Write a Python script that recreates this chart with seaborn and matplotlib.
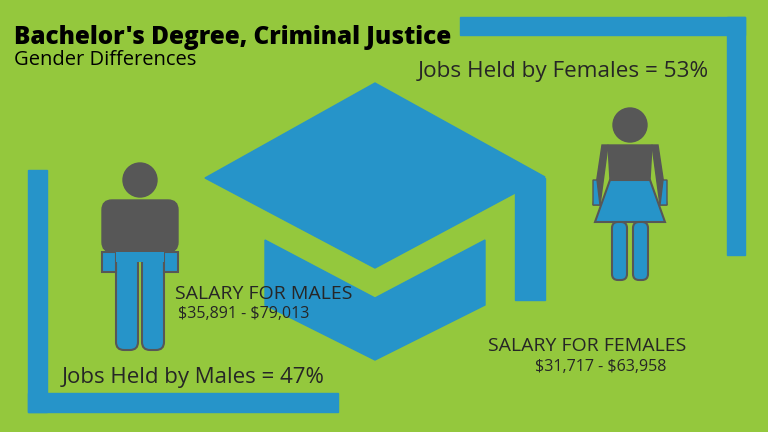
import matplotlib
matplotlib.use("Agg")
import matplotlib.pyplot as plt
import seaborn as sns
from matplotlib.patches import Polygon, Rectangle, Circle, FancyBboxPatch

# Data
genders = ["Males", "Females"]
job_share = [47, 53]
salary_low = [35891, 31717]
salary_high = [79013, 63958]

GREEN = "#94c83d"
BLUE = "#2694c9"
GRAY = "#575757"

sns.set_style("white")
plt.rcParams["font.family"] = ["Open Sans", "DejaVu Sans"]

fig = plt.figure(figsize=(7.68, 4.32), dpi=100)
fig.patch.set_facecolor(GREEN)
ax = fig.add_axes([0, 0, 1, 1])
ax.set_facecolor(GREEN)
ax.set_xlim(0, 768)
ax.set_ylim(432, 0)
ax.axis("off")

# brackets
ax.add_patch(Rectangle((460, 17), 285, 18, color=BLUE))
ax.add_patch(Rectangle((727, 17), 18, 238, color=BLUE))
ax.add_patch(Rectangle((28, 170), 19, 242, color=BLUE))
ax.add_patch(Rectangle((28, 393), 310, 19, color=BLUE))

# graduation cap
ax.add_patch(Polygon([(265, 240), (375, 298), (485, 240), (485, 305),
                      (375, 360), (265, 305)], color=BLUE))
ax.add_patch(Polygon([(205, 178), (375, 83), (545, 177), (375, 268)], color=BLUE))
ax.add_patch(Rectangle((515, 178), 30, 122, color=BLUE))


def person(cx, head_y, female=False):
    ax.add_patch(Circle((cx, head_y), 17, color=GRAY))
    if female:
        # arms
        ax.add_patch(Polygon([(cx - 28, head_y + 20), (cx - 22, head_y + 20),
                              (cx - 30, head_y + 80), (cx - 37, head_y + 80)], color=GRAY))
        ax.add_patch(Polygon([(cx + 28, head_y + 20), (cx + 22, head_y + 20),
                              (cx + 30, head_y + 80), (cx + 37, head_y + 80)], color=GRAY))
        ax.add_patch(Polygon([(cx - 20, head_y + 55), (cx - 22, head_y + 20),
                              (cx + 22, head_y + 20), (cx + 20, head_y + 55)], color=GRAY))
        ax.add_patch(Polygon([(cx - 20, head_y + 55), (cx + 20, head_y + 55),
                              (cx + 35, head_y + 97), (cx - 35, head_y + 97)], color=BLUE, ec=GRAY, lw=1.5))
        ax.add_patch(Polygon([(cx - 37, head_y + 55), (cx - 33, head_y + 55),
                              (cx - 30, head_y + 80), (cx - 37, head_y + 80)], fc=BLUE, ec=GRAY, lw=1))
        ax.add_patch(Polygon([(cx + 37, head_y + 55), (cx + 33, head_y + 55),
                              (cx + 30, head_y + 80), (cx + 37, head_y + 80)], fc=BLUE, ec=GRAY, lw=1))
        for dx in (-18, 3):
            ax.add_patch(FancyBboxPatch((cx + dx, head_y + 97), 15, 58, boxstyle="round,pad=0,rounding_size=6",
                                        fc=BLUE, ec=GRAY, lw=1.5))
    else:
        for dx in (-24, 2):
            ax.add_patch(FancyBboxPatch((cx + dx, head_y + 60), 22, 110, boxstyle="round,pad=0,rounding_size=8",
                                        fc=BLUE, ec=GRAY, lw=1.5))
        ax.add_patch(FancyBboxPatch((cx - 38, head_y + 20), 76, 52, boxstyle="round,pad=0,rounding_size=10",
                                    fc=GRAY, ec=GRAY))
        ax.add_patch(Rectangle((cx - 38, head_y + 72), 14, 20, fc=BLUE, ec=GRAY, lw=1.5))
        ax.add_patch(Rectangle((cx + 24, head_y + 72), 14, 20, fc=BLUE, ec=GRAY, lw=1.5))
        ax.add_patch(Rectangle((cx - 24, head_y + 72), 48, 10, fc=BLUE, ec="none"))


person(140, 180)
person(630, 125, female=True)

ax.text(14, 37, "Bachelor's Degree, Criminal Justice", fontsize=17.5, fontweight="heavy",
        color="black", va="center")
ax.text(14, 60, "Gender Differences", fontsize=14.5, color="black", va="center")

ax.text(418, 72, f"Jobs Held by {genders[1]} = {job_share[1]}%", fontsize=16.2, va="center")
ax.text(62, 378, f"Jobs Held by {genders[0]} = {job_share[0]}%", fontsize=16, va="center")

ax.text(175, 294, f"SALARY FOR {genders[0].upper()}", fontsize=14, va="center")
ax.text(178, 314, f"\\${salary_low[0]:,} - \\${salary_high[0]:,}", fontsize=11.5, va="center")
ax.text(488, 346, f"SALARY FOR {genders[1].upper()}", fontsize=14, va="center")
ax.text(535, 367, f"\\${salary_low[1]:,} - \\${salary_high[1]:,}", fontsize=11.5, va="center")

fig.savefig("out.png", dpi=100, facecolor=GREEN)
